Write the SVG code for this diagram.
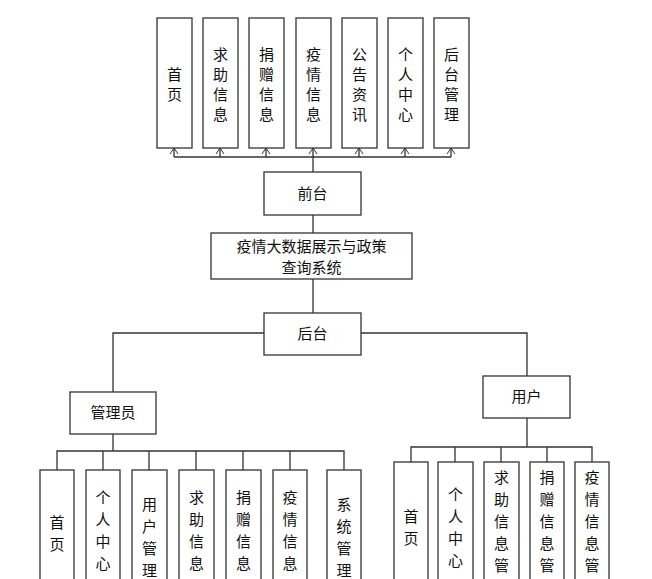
<svg xmlns="http://www.w3.org/2000/svg" width="652" height="579" viewBox="0 0 652 579">
<style>
rect{fill:#fff;stroke:#333;stroke-width:1.3}
text{font-family:"Noto Sans CJK SC",sans-serif;font-size:15px;fill:#111;text-anchor:middle}
.c line,.c path{stroke:#333;stroke-width:1.3;fill:none}
</style>
<defs><marker id="a" markerWidth="10" markerHeight="10" refX="7" refY="5" orient="auto" markerUnits="userSpaceOnUse"><path d="M1,1 L7,5 L1,9" fill="none" stroke="#333" stroke-width="1"/></marker></defs>
<rect x="0" y="0" width="652" height="579" style="stroke:none;fill:#fff"/>
<g class="c">
<line x1="313" y1="157" x2="313" y2="172"/>
<line x1="174" y1="157" x2="451" y2="157"/>
<line x1="174" y1="157" x2="174" y2="148" marker-end="url(#a)"/>
<line x1="220" y1="157" x2="220" y2="148" marker-end="url(#a)"/>
<line x1="266" y1="157" x2="266" y2="148" marker-end="url(#a)"/>
<line x1="313" y1="157" x2="313" y2="148" marker-end="url(#a)"/>
<line x1="359" y1="157" x2="359" y2="148" marker-end="url(#a)"/>
<line x1="405" y1="157" x2="405" y2="148" marker-end="url(#a)"/>
<line x1="451" y1="157" x2="451" y2="148" marker-end="url(#a)"/>
<line x1="313" y1="215" x2="313" y2="233"/>
<line x1="313" y1="279" x2="313" y2="313"/>
<path d="M113,392 V333 H264 M361,333 H527 V376"/>
<path d="M113,434 V451 M57,470 V451 H344 V470 M103,451 V470 M149,451 V470 M196,451 V470 M243,451 V470 M290,451 V470"/>
<path d="M527,418 V447 M411,462 V447 H592 V462 M455,447 V462 M501,447 V462 M547,447 V462"/>
</g>
<g id="top">
<rect x="157" y="18" width="35" height="130"/><text x="174.5" y="80">首</text><text x="174.5" y="100">页</text>
<rect x="203" y="18" width="35" height="130"/><text x="220.5" y="60">求</text><text x="220.5" y="80">助</text><text x="220.5" y="100">信</text><text x="220.5" y="120">息</text>
<rect x="249" y="18" width="35" height="130"/><text x="266.5" y="60">捐</text><text x="266.5" y="80">赠</text><text x="266.5" y="100">信</text><text x="266.5" y="120">息</text>
<rect x="296" y="18" width="35" height="130"/><text x="313.5" y="60">疫</text><text x="313.5" y="80">情</text><text x="313.5" y="100">信</text><text x="313.5" y="120">息</text>
<rect x="342" y="18" width="35" height="130"/><text x="359.5" y="60">公</text><text x="359.5" y="80">告</text><text x="359.5" y="100">资</text><text x="359.5" y="120">讯</text>
<rect x="388" y="18" width="35" height="130"/><text x="405.5" y="60">个</text><text x="405.5" y="80">人</text><text x="405.5" y="100">中</text><text x="405.5" y="120">心</text>
<rect x="434" y="18" width="35" height="130"/><text x="451.5" y="60">后</text><text x="451.5" y="80">台</text><text x="451.5" y="100">管</text><text x="451.5" y="120">理</text>
</g>
<g id="qiantai"><rect x="264" y="172" width="97" height="43"/><text x="312.5" y="199">前台</text></g>
<g id="system"><rect x="211" y="233" width="201" height="46"/><text x="311.5" y="252">疫情大数据展示与政策</text><text x="311.5" y="273">查询系统</text></g>
<g id="houtai"><rect x="264" y="313" width="97" height="42"/><text x="312.5" y="339">后台</text></g>
<g id="admin"><rect x="70" y="392" width="86" height="42"/><text x="113" y="418">管理员</text></g>
<g id="user"><rect x="483" y="376" width="87" height="42"/><text x="526.5" y="402">用户</text></g>
<g id="adminItems">
<rect x="40" y="470" width="34" height="120"/><text x="57" y="528">首</text><text x="57" y="550">页</text>
<rect x="86" y="470" width="34" height="120"/><text x="103" y="503">个</text><text x="103" y="525">人</text><text x="103" y="547">中</text><text x="103" y="569">心</text>
<rect x="132" y="470" width="35" height="120"/><text x="149.5" y="510">用</text><text x="149.5" y="532">户</text><text x="149.5" y="554">管</text><text x="149.5" y="576">理</text>
<rect x="179" y="470" width="35" height="120"/><text x="196.5" y="503">求</text><text x="196.5" y="525">助</text><text x="196.5" y="547">信</text><text x="196.5" y="569">息</text>
<rect x="226" y="470" width="35" height="120"/><text x="243.5" y="503">捐</text><text x="243.5" y="525">赠</text><text x="243.5" y="547">信</text><text x="243.5" y="569">息</text>
<rect x="273" y="470" width="34" height="120"/><text x="290" y="503">疫</text><text x="290" y="525">情</text><text x="290" y="547">信</text><text x="290" y="569">息</text>
<rect x="327" y="470" width="34" height="120"/><text x="344" y="510">系</text><text x="344" y="532">统</text><text x="344" y="554">管</text><text x="344" y="576">理</text>
</g>
<g id="userItems">
<rect x="394" y="462" width="34" height="130"/><text x="411" y="522">首</text><text x="411" y="544">页</text>
<rect x="438" y="462" width="35" height="130"/><text x="455.5" y="500">个</text><text x="455.5" y="522">人</text><text x="455.5" y="544">中</text><text x="455.5" y="566">心</text>
<rect x="484" y="462" width="35" height="130"/><text x="501.5" y="483">求</text><text x="501.5" y="505">助</text><text x="501.5" y="527">信</text><text x="501.5" y="549">息</text><text x="501.5" y="571">管</text>
<rect x="530" y="462" width="34" height="130"/><text x="547" y="483">捐</text><text x="547" y="505">赠</text><text x="547" y="527">信</text><text x="547" y="549">息</text><text x="547" y="571">管</text>
<rect x="575" y="462" width="34" height="130"/><text x="592" y="483">疫</text><text x="592" y="505">情</text><text x="592" y="527">信</text><text x="592" y="549">息</text><text x="592" y="571">管</text>
</g>
</svg>
